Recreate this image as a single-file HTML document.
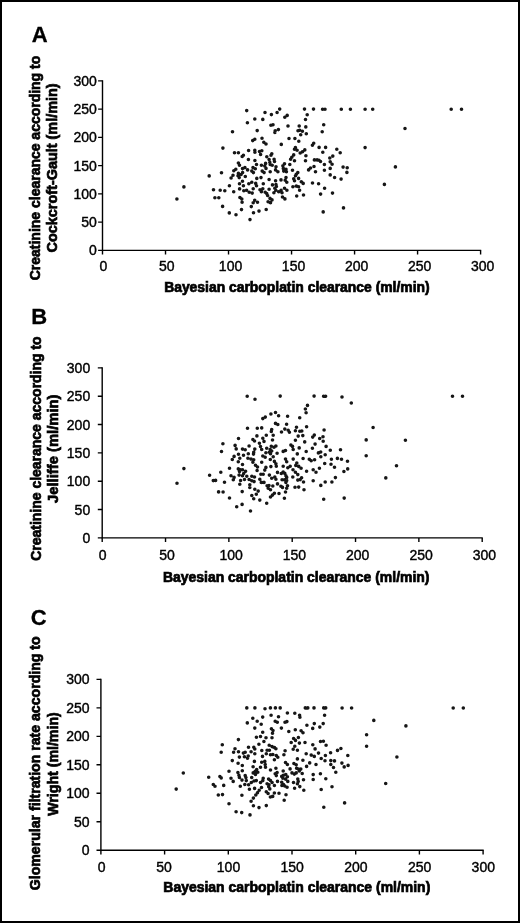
<!DOCTYPE html>
<html><head><meta charset="utf-8"><title>Figure</title><style>
html,body{margin:0;padding:0;background:#fff;}
svg{display:block;}
text{font-family:"Liberation Sans",Arial,Helvetica,sans-serif;fill:#000;}
.tk{font-size:14px;stroke:#000;stroke-width:0.4px;}
.tt{font-size:14px;font-weight:bold;stroke:#000;stroke-width:0.7px;}
.ty{font-size:14.4px;font-weight:bold;stroke:#000;stroke-width:0.7px;}
.lt{font-size:22px;font-weight:bold;stroke:#000;stroke-width:0.3px;}
</style></head><body>
<svg width="520" height="923" viewBox="0 0 520 923">
<defs><filter id="b" x="-5%" y="-5%" width="110%" height="110%"><feGaussianBlur stdDeviation="0.3"/></filter></defs>
<rect x="1" y="1" width="518" height="921" fill="#fff" stroke="#000" stroke-width="2"/>

<text class="lt" x="31.8" y="41.6">A</text>
<path d="M102.5 80.30000000000001V250.4M101.9 250.4H481.20000000000005" stroke="#000" stroke-width="1.4" fill="none"/>
<path d="M98.1 250.40H102.5M102.50 250.4V254.6M98.1 222.15H102.5M165.52 250.4V254.6M98.1 193.90H102.5M228.53 250.4V254.6M98.1 165.65H102.5M291.55 250.4V254.6M98.1 137.40H102.5M354.57 250.4V254.6M98.1 109.15H102.5M417.58 250.4V254.6M98.1 80.90H102.5M480.60 250.4V254.6" stroke="#000" stroke-width="1.4" fill="none"/>
<text class="tk" x="96.89999999999999" y="255.40" text-anchor="end">0</text>
<text class="tk" x="96.89999999999999" y="227.15" text-anchor="end">50</text>
<text class="tk" x="96.89999999999999" y="198.90" text-anchor="end">100</text>
<text class="tk" x="96.89999999999999" y="170.65" text-anchor="end">150</text>
<text class="tk" x="96.89999999999999" y="142.40" text-anchor="end">200</text>
<text class="tk" x="96.89999999999999" y="114.15" text-anchor="end">250</text>
<text class="tk" x="96.89999999999999" y="85.90" text-anchor="end">300</text>
<text class="tk" x="103.30" y="271.40" text-anchor="middle">0</text>
<text class="tk" x="166.72" y="271.40" text-anchor="middle">50</text>
<text class="tk" x="230.53" y="271.40" text-anchor="middle">100</text>
<text class="tk" x="293.55" y="271.40" text-anchor="middle">150</text>
<text class="tk" x="356.57" y="271.40" text-anchor="middle">200</text>
<text class="tk" x="419.58" y="271.40" text-anchor="middle">250</text>
<text class="tk" x="482.60" y="271.40" text-anchor="middle">300</text>
<text class="tt" x="296.9" y="291.9" text-anchor="middle" textLength="265.5" lengthAdjust="spacingAndGlyphs">Bayesian carboplatin clearance (ml/min)</text>
<text class="ty" transform="translate(39.6,168.0) rotate(-90)" text-anchor="middle" textLength="224.5" lengthAdjust="spacingAndGlyphs">Creatinine clearance according to</text>
<text class="ty" transform="translate(56.9,167.9) rotate(-90)" text-anchor="middle" textLength="169.0" lengthAdjust="spacingAndGlyphs">Cockcroft-Gault (ml/min)</text>
<path d="M230.70 131.8a1.8 1.8 0 1 0 3.60 0a1.8 1.8 0 1 0 -3.60 0zM221.10 148.1a1.8 1.8 0 1 0 3.60 0a1.8 1.8 0 1 0 -3.60 0zM244.90 110.6a1.8 1.8 0 1 0 3.60 0a1.8 1.8 0 1 0 -3.60 0zM263.20 112.5a1.8 1.8 0 1 0 3.60 0a1.8 1.8 0 1 0 -3.60 0zM253.00 119.0a1.8 1.8 0 1 0 3.60 0a1.8 1.8 0 1 0 -3.60 0zM261.00 119.4a1.8 1.8 0 1 0 3.60 0a1.8 1.8 0 1 0 -3.60 0zM245.60 122.8a1.8 1.8 0 1 0 3.60 0a1.8 1.8 0 1 0 -3.60 0zM255.40 130.6a1.8 1.8 0 1 0 3.60 0a1.8 1.8 0 1 0 -3.60 0zM250.90 140.6a1.8 1.8 0 1 0 3.60 0a1.8 1.8 0 1 0 -3.60 0zM253.00 139.2a1.8 1.8 0 1 0 3.60 0a1.8 1.8 0 1 0 -3.60 0zM260.20 138.3a1.8 1.8 0 1 0 3.60 0a1.8 1.8 0 1 0 -3.60 0zM262.00 142.3a1.8 1.8 0 1 0 3.60 0a1.8 1.8 0 1 0 -3.60 0zM264.20 144.0a1.8 1.8 0 1 0 3.60 0a1.8 1.8 0 1 0 -3.60 0zM277.90 109.1a1.8 1.8 0 1 0 3.60 0a1.8 1.8 0 1 0 -3.60 0zM275.30 112.5a1.8 1.8 0 1 0 3.60 0a1.8 1.8 0 1 0 -3.60 0zM269.60 114.6a1.8 1.8 0 1 0 3.60 0a1.8 1.8 0 1 0 -3.60 0zM283.00 117.3a1.8 1.8 0 1 0 3.60 0a1.8 1.8 0 1 0 -3.60 0zM285.40 115.4a1.8 1.8 0 1 0 3.60 0a1.8 1.8 0 1 0 -3.60 0zM302.70 109.1a1.8 1.8 0 1 0 3.60 0a1.8 1.8 0 1 0 -3.60 0zM311.70 109.1a1.8 1.8 0 1 0 3.60 0a1.8 1.8 0 1 0 -3.60 0zM305.40 114.7a1.8 1.8 0 1 0 3.60 0a1.8 1.8 0 1 0 -3.60 0zM303.70 119.5a1.8 1.8 0 1 0 3.60 0a1.8 1.8 0 1 0 -3.60 0zM269.10 125.2a1.8 1.8 0 1 0 3.60 0a1.8 1.8 0 1 0 -3.60 0zM271.20 124.8a1.8 1.8 0 1 0 3.60 0a1.8 1.8 0 1 0 -3.60 0zM286.20 126.0a1.8 1.8 0 1 0 3.60 0a1.8 1.8 0 1 0 -3.60 0zM297.40 126.0a1.8 1.8 0 1 0 3.60 0a1.8 1.8 0 1 0 -3.60 0zM304.00 126.9a1.8 1.8 0 1 0 3.60 0a1.8 1.8 0 1 0 -3.60 0zM273.40 130.8a1.8 1.8 0 1 0 3.60 0a1.8 1.8 0 1 0 -3.60 0zM276.60 129.6a1.8 1.8 0 1 0 3.60 0a1.8 1.8 0 1 0 -3.60 0zM273.10 132.5a1.8 1.8 0 1 0 3.60 0a1.8 1.8 0 1 0 -3.60 0zM296.20 130.8a1.8 1.8 0 1 0 3.60 0a1.8 1.8 0 1 0 -3.60 0zM297.90 130.3a1.8 1.8 0 1 0 3.60 0a1.8 1.8 0 1 0 -3.60 0zM300.60 131.2a1.8 1.8 0 1 0 3.60 0a1.8 1.8 0 1 0 -3.60 0zM298.90 134.8a1.8 1.8 0 1 0 3.60 0a1.8 1.8 0 1 0 -3.60 0zM304.50 133.7a1.8 1.8 0 1 0 3.60 0a1.8 1.8 0 1 0 -3.60 0zM287.20 138.5a1.8 1.8 0 1 0 3.60 0a1.8 1.8 0 1 0 -3.60 0zM293.10 138.5a1.8 1.8 0 1 0 3.60 0a1.8 1.8 0 1 0 -3.60 0zM297.00 141.3a1.8 1.8 0 1 0 3.60 0a1.8 1.8 0 1 0 -3.60 0zM279.50 144.4a1.8 1.8 0 1 0 3.60 0a1.8 1.8 0 1 0 -3.60 0zM310.60 145.2a1.8 1.8 0 1 0 3.60 0a1.8 1.8 0 1 0 -3.60 0zM311.90 143.3a1.8 1.8 0 1 0 3.60 0a1.8 1.8 0 1 0 -3.60 0zM293.60 147.6a1.8 1.8 0 1 0 3.60 0a1.8 1.8 0 1 0 -3.60 0zM320.80 109.3a1.8 1.8 0 1 0 3.60 0a1.8 1.8 0 1 0 -3.60 0zM323.20 109.3a1.8 1.8 0 1 0 3.60 0a1.8 1.8 0 1 0 -3.60 0zM339.50 109.3a1.8 1.8 0 1 0 3.60 0a1.8 1.8 0 1 0 -3.60 0zM348.60 109.3a1.8 1.8 0 1 0 3.60 0a1.8 1.8 0 1 0 -3.60 0zM321.90 124.7a1.8 1.8 0 1 0 3.60 0a1.8 1.8 0 1 0 -3.60 0zM320.40 131.7a1.8 1.8 0 1 0 3.60 0a1.8 1.8 0 1 0 -3.60 0zM317.30 147.4a1.8 1.8 0 1 0 3.60 0a1.8 1.8 0 1 0 -3.60 0zM323.80 147.4a1.8 1.8 0 1 0 3.60 0a1.8 1.8 0 1 0 -3.60 0zM363.30 109.3a1.8 1.8 0 1 0 3.60 0a1.8 1.8 0 1 0 -3.60 0zM370.90 109.3a1.8 1.8 0 1 0 3.60 0a1.8 1.8 0 1 0 -3.60 0zM449.40 109.3a1.8 1.8 0 1 0 3.60 0a1.8 1.8 0 1 0 -3.60 0zM459.70 109.3a1.8 1.8 0 1 0 3.60 0a1.8 1.8 0 1 0 -3.60 0zM403.20 128.5a1.8 1.8 0 1 0 3.60 0a1.8 1.8 0 1 0 -3.60 0zM363.30 147.6a1.8 1.8 0 1 0 3.60 0a1.8 1.8 0 1 0 -3.60 0zM207.40 175.9a1.8 1.8 0 1 0 3.60 0a1.8 1.8 0 1 0 -3.60 0zM182.10 186.9a1.8 1.8 0 1 0 3.60 0a1.8 1.8 0 1 0 -3.60 0zM211.70 189.8a1.8 1.8 0 1 0 3.60 0a1.8 1.8 0 1 0 -3.60 0zM232.70 152.8a1.8 1.8 0 1 0 3.60 0a1.8 1.8 0 1 0 -3.60 0zM236.60 152.8a1.8 1.8 0 1 0 3.60 0a1.8 1.8 0 1 0 -3.60 0zM246.80 150.5a1.8 1.8 0 1 0 3.60 0a1.8 1.8 0 1 0 -3.60 0zM253.00 150.3a1.8 1.8 0 1 0 3.60 0a1.8 1.8 0 1 0 -3.60 0zM253.10 152.2a1.8 1.8 0 1 0 3.60 0a1.8 1.8 0 1 0 -3.60 0zM240.40 156.5a1.8 1.8 0 1 0 3.60 0a1.8 1.8 0 1 0 -3.60 0zM241.60 155.3a1.8 1.8 0 1 0 3.60 0a1.8 1.8 0 1 0 -3.60 0zM246.60 159.5a1.8 1.8 0 1 0 3.60 0a1.8 1.8 0 1 0 -3.60 0zM253.10 160.5a1.8 1.8 0 1 0 3.60 0a1.8 1.8 0 1 0 -3.60 0zM236.60 163.0a1.8 1.8 0 1 0 3.60 0a1.8 1.8 0 1 0 -3.60 0zM237.70 165.3a1.8 1.8 0 1 0 3.60 0a1.8 1.8 0 1 0 -3.60 0zM254.70 164.5a1.8 1.8 0 1 0 3.60 0a1.8 1.8 0 1 0 -3.60 0zM219.70 172.8a1.8 1.8 0 1 0 3.60 0a1.8 1.8 0 1 0 -3.60 0zM232.00 170.7a1.8 1.8 0 1 0 3.60 0a1.8 1.8 0 1 0 -3.60 0zM234.00 169.2a1.8 1.8 0 1 0 3.60 0a1.8 1.8 0 1 0 -3.60 0zM240.70 168.6a1.8 1.8 0 1 0 3.60 0a1.8 1.8 0 1 0 -3.60 0zM243.10 167.6a1.8 1.8 0 1 0 3.60 0a1.8 1.8 0 1 0 -3.60 0zM245.80 169.9a1.8 1.8 0 1 0 3.60 0a1.8 1.8 0 1 0 -3.60 0zM251.20 167.6a1.8 1.8 0 1 0 3.60 0a1.8 1.8 0 1 0 -3.60 0zM253.50 168.8a1.8 1.8 0 1 0 3.60 0a1.8 1.8 0 1 0 -3.60 0zM250.00 171.1a1.8 1.8 0 1 0 3.60 0a1.8 1.8 0 1 0 -3.60 0zM251.60 172.6a1.8 1.8 0 1 0 3.60 0a1.8 1.8 0 1 0 -3.60 0zM240.80 172.6a1.8 1.8 0 1 0 3.60 0a1.8 1.8 0 1 0 -3.60 0zM236.60 173.4a1.8 1.8 0 1 0 3.60 0a1.8 1.8 0 1 0 -3.60 0zM239.30 174.5a1.8 1.8 0 1 0 3.60 0a1.8 1.8 0 1 0 -3.60 0zM236.20 175.7a1.8 1.8 0 1 0 3.60 0a1.8 1.8 0 1 0 -3.60 0zM237.40 177.6a1.8 1.8 0 1 0 3.60 0a1.8 1.8 0 1 0 -3.60 0zM243.50 176.5a1.8 1.8 0 1 0 3.60 0a1.8 1.8 0 1 0 -3.60 0zM231.20 175.3a1.8 1.8 0 1 0 3.60 0a1.8 1.8 0 1 0 -3.60 0zM229.30 178.0a1.8 1.8 0 1 0 3.60 0a1.8 1.8 0 1 0 -3.60 0zM255.00 178.4a1.8 1.8 0 1 0 3.60 0a1.8 1.8 0 1 0 -3.60 0zM240.70 181.2a1.8 1.8 0 1 0 3.60 0a1.8 1.8 0 1 0 -3.60 0zM237.70 183.8a1.8 1.8 0 1 0 3.60 0a1.8 1.8 0 1 0 -3.60 0zM227.60 185.8a1.8 1.8 0 1 0 3.60 0a1.8 1.8 0 1 0 -3.60 0zM241.60 185.8a1.8 1.8 0 1 0 3.60 0a1.8 1.8 0 1 0 -3.60 0zM247.00 183.8a1.8 1.8 0 1 0 3.60 0a1.8 1.8 0 1 0 -3.60 0zM250.00 182.2a1.8 1.8 0 1 0 3.60 0a1.8 1.8 0 1 0 -3.60 0zM253.90 183.4a1.8 1.8 0 1 0 3.60 0a1.8 1.8 0 1 0 -3.60 0zM254.70 185.7a1.8 1.8 0 1 0 3.60 0a1.8 1.8 0 1 0 -3.60 0zM257.70 151.5a1.8 1.8 0 1 0 3.60 0a1.8 1.8 0 1 0 -3.60 0zM260.00 150.7a1.8 1.8 0 1 0 3.60 0a1.8 1.8 0 1 0 -3.60 0zM258.80 154.5a1.8 1.8 0 1 0 3.60 0a1.8 1.8 0 1 0 -3.60 0zM270.00 153.8a1.8 1.8 0 1 0 3.60 0a1.8 1.8 0 1 0 -3.60 0zM269.20 155.3a1.8 1.8 0 1 0 3.60 0a1.8 1.8 0 1 0 -3.60 0zM265.00 156.8a1.8 1.8 0 1 0 3.60 0a1.8 1.8 0 1 0 -3.60 0zM267.30 159.5a1.8 1.8 0 1 0 3.60 0a1.8 1.8 0 1 0 -3.60 0zM272.30 159.2a1.8 1.8 0 1 0 3.60 0a1.8 1.8 0 1 0 -3.60 0zM272.70 161.5a1.8 1.8 0 1 0 3.60 0a1.8 1.8 0 1 0 -3.60 0zM268.00 162.2a1.8 1.8 0 1 0 3.60 0a1.8 1.8 0 1 0 -3.60 0zM268.40 164.5a1.8 1.8 0 1 0 3.60 0a1.8 1.8 0 1 0 -3.60 0zM270.40 165.3a1.8 1.8 0 1 0 3.60 0a1.8 1.8 0 1 0 -3.60 0zM263.80 163.4a1.8 1.8 0 1 0 3.60 0a1.8 1.8 0 1 0 -3.60 0zM263.00 166.1a1.8 1.8 0 1 0 3.60 0a1.8 1.8 0 1 0 -3.60 0zM259.60 165.3a1.8 1.8 0 1 0 3.60 0a1.8 1.8 0 1 0 -3.60 0zM264.20 168.4a1.8 1.8 0 1 0 3.60 0a1.8 1.8 0 1 0 -3.60 0zM260.40 171.1a1.8 1.8 0 1 0 3.60 0a1.8 1.8 0 1 0 -3.60 0zM262.30 172.6a1.8 1.8 0 1 0 3.60 0a1.8 1.8 0 1 0 -3.60 0zM268.40 171.8a1.8 1.8 0 1 0 3.60 0a1.8 1.8 0 1 0 -3.60 0zM274.20 166.8a1.8 1.8 0 1 0 3.60 0a1.8 1.8 0 1 0 -3.60 0zM273.80 169.9a1.8 1.8 0 1 0 3.60 0a1.8 1.8 0 1 0 -3.60 0zM276.10 171.8a1.8 1.8 0 1 0 3.60 0a1.8 1.8 0 1 0 -3.60 0zM282.70 163.8a1.8 1.8 0 1 0 3.60 0a1.8 1.8 0 1 0 -3.60 0zM281.10 165.7a1.8 1.8 0 1 0 3.60 0a1.8 1.8 0 1 0 -3.60 0zM281.50 168.4a1.8 1.8 0 1 0 3.60 0a1.8 1.8 0 1 0 -3.60 0zM284.20 169.2a1.8 1.8 0 1 0 3.60 0a1.8 1.8 0 1 0 -3.60 0zM281.90 171.1a1.8 1.8 0 1 0 3.60 0a1.8 1.8 0 1 0 -3.60 0zM284.60 171.8a1.8 1.8 0 1 0 3.60 0a1.8 1.8 0 1 0 -3.60 0zM288.00 164.5a1.8 1.8 0 1 0 3.60 0a1.8 1.8 0 1 0 -3.60 0zM290.70 170.3a1.8 1.8 0 1 0 3.60 0a1.8 1.8 0 1 0 -3.60 0zM291.90 154.9a1.8 1.8 0 1 0 3.60 0a1.8 1.8 0 1 0 -3.60 0zM290.00 157.2a1.8 1.8 0 1 0 3.60 0a1.8 1.8 0 1 0 -3.60 0zM288.80 159.2a1.8 1.8 0 1 0 3.60 0a1.8 1.8 0 1 0 -3.60 0zM292.70 160.7a1.8 1.8 0 1 0 3.60 0a1.8 1.8 0 1 0 -3.60 0zM292.70 149.2a1.8 1.8 0 1 0 3.60 0a1.8 1.8 0 1 0 -3.60 0zM259.20 177.6a1.8 1.8 0 1 0 3.60 0a1.8 1.8 0 1 0 -3.60 0zM267.30 179.5a1.8 1.8 0 1 0 3.60 0a1.8 1.8 0 1 0 -3.60 0zM273.80 180.7a1.8 1.8 0 1 0 3.60 0a1.8 1.8 0 1 0 -3.60 0zM279.20 179.9a1.8 1.8 0 1 0 3.60 0a1.8 1.8 0 1 0 -3.60 0zM284.20 177.6a1.8 1.8 0 1 0 3.60 0a1.8 1.8 0 1 0 -3.60 0zM283.40 180.3a1.8 1.8 0 1 0 3.60 0a1.8 1.8 0 1 0 -3.60 0zM285.00 182.2a1.8 1.8 0 1 0 3.60 0a1.8 1.8 0 1 0 -3.60 0zM291.90 178.8a1.8 1.8 0 1 0 3.60 0a1.8 1.8 0 1 0 -3.60 0zM292.70 180.7a1.8 1.8 0 1 0 3.60 0a1.8 1.8 0 1 0 -3.60 0zM261.50 183.8a1.8 1.8 0 1 0 3.60 0a1.8 1.8 0 1 0 -3.60 0zM270.70 184.9a1.8 1.8 0 1 0 3.60 0a1.8 1.8 0 1 0 -3.60 0zM274.20 184.5a1.8 1.8 0 1 0 3.60 0a1.8 1.8 0 1 0 -3.60 0zM274.60 186.5a1.8 1.8 0 1 0 3.60 0a1.8 1.8 0 1 0 -3.60 0zM291.10 186.8a1.8 1.8 0 1 0 3.60 0a1.8 1.8 0 1 0 -3.60 0zM295.30 150.3a1.8 1.8 0 1 0 3.60 0a1.8 1.8 0 1 0 -3.60 0zM298.40 153.0a1.8 1.8 0 1 0 3.60 0a1.8 1.8 0 1 0 -3.60 0zM300.70 151.8a1.8 1.8 0 1 0 3.60 0a1.8 1.8 0 1 0 -3.60 0zM303.00 149.9a1.8 1.8 0 1 0 3.60 0a1.8 1.8 0 1 0 -3.60 0zM304.10 155.7a1.8 1.8 0 1 0 3.60 0a1.8 1.8 0 1 0 -3.60 0zM303.70 160.7a1.8 1.8 0 1 0 3.60 0a1.8 1.8 0 1 0 -3.60 0zM321.00 152.2a1.8 1.8 0 1 0 3.60 0a1.8 1.8 0 1 0 -3.60 0zM312.60 159.9a1.8 1.8 0 1 0 3.60 0a1.8 1.8 0 1 0 -3.60 0zM315.30 159.9a1.8 1.8 0 1 0 3.60 0a1.8 1.8 0 1 0 -3.60 0zM317.20 160.3a1.8 1.8 0 1 0 3.60 0a1.8 1.8 0 1 0 -3.60 0zM318.70 161.5a1.8 1.8 0 1 0 3.60 0a1.8 1.8 0 1 0 -3.60 0zM322.60 164.5a1.8 1.8 0 1 0 3.60 0a1.8 1.8 0 1 0 -3.60 0zM328.00 158.0a1.8 1.8 0 1 0 3.60 0a1.8 1.8 0 1 0 -3.60 0zM331.00 156.1a1.8 1.8 0 1 0 3.60 0a1.8 1.8 0 1 0 -3.60 0zM328.40 161.8a1.8 1.8 0 1 0 3.60 0a1.8 1.8 0 1 0 -3.60 0zM330.30 164.2a1.8 1.8 0 1 0 3.60 0a1.8 1.8 0 1 0 -3.60 0zM328.40 168.4a1.8 1.8 0 1 0 3.60 0a1.8 1.8 0 1 0 -3.60 0zM322.60 170.3a1.8 1.8 0 1 0 3.60 0a1.8 1.8 0 1 0 -3.60 0zM306.80 169.9a1.8 1.8 0 1 0 3.60 0a1.8 1.8 0 1 0 -3.60 0zM308.70 168.0a1.8 1.8 0 1 0 3.60 0a1.8 1.8 0 1 0 -3.60 0zM312.20 166.5a1.8 1.8 0 1 0 3.60 0a1.8 1.8 0 1 0 -3.60 0zM313.70 171.8a1.8 1.8 0 1 0 3.60 0a1.8 1.8 0 1 0 -3.60 0zM296.00 172.6a1.8 1.8 0 1 0 3.60 0a1.8 1.8 0 1 0 -3.60 0zM294.50 174.2a1.8 1.8 0 1 0 3.60 0a1.8 1.8 0 1 0 -3.60 0zM293.70 175.7a1.8 1.8 0 1 0 3.60 0a1.8 1.8 0 1 0 -3.60 0zM296.80 178.4a1.8 1.8 0 1 0 3.60 0a1.8 1.8 0 1 0 -3.60 0zM299.50 181.8a1.8 1.8 0 1 0 3.60 0a1.8 1.8 0 1 0 -3.60 0zM301.40 183.4a1.8 1.8 0 1 0 3.60 0a1.8 1.8 0 1 0 -3.60 0zM310.70 183.0a1.8 1.8 0 1 0 3.60 0a1.8 1.8 0 1 0 -3.60 0zM316.80 183.8a1.8 1.8 0 1 0 3.60 0a1.8 1.8 0 1 0 -3.60 0zM328.40 174.9a1.8 1.8 0 1 0 3.60 0a1.8 1.8 0 1 0 -3.60 0zM294.50 186.1a1.8 1.8 0 1 0 3.60 0a1.8 1.8 0 1 0 -3.60 0zM296.80 186.8a1.8 1.8 0 1 0 3.60 0a1.8 1.8 0 1 0 -3.60 0zM335.00 149.3a1.8 1.8 0 1 0 3.60 0a1.8 1.8 0 1 0 -3.60 0zM338.40 152.7a1.8 1.8 0 1 0 3.60 0a1.8 1.8 0 1 0 -3.60 0zM341.30 167.1a1.8 1.8 0 1 0 3.60 0a1.8 1.8 0 1 0 -3.60 0zM345.40 167.8a1.8 1.8 0 1 0 3.60 0a1.8 1.8 0 1 0 -3.60 0zM345.10 172.4a1.8 1.8 0 1 0 3.60 0a1.8 1.8 0 1 0 -3.60 0zM332.80 177.5a1.8 1.8 0 1 0 3.60 0a1.8 1.8 0 1 0 -3.60 0zM339.30 179.1a1.8 1.8 0 1 0 3.60 0a1.8 1.8 0 1 0 -3.60 0zM330.70 193.1a1.8 1.8 0 1 0 3.60 0a1.8 1.8 0 1 0 -3.60 0zM393.60 166.9a1.8 1.8 0 1 0 3.60 0a1.8 1.8 0 1 0 -3.60 0zM382.60 184.4a1.8 1.8 0 1 0 3.60 0a1.8 1.8 0 1 0 -3.60 0zM218.40 190.3a1.8 1.8 0 1 0 3.60 0a1.8 1.8 0 1 0 -3.60 0zM223.00 190.8a1.8 1.8 0 1 0 3.60 0a1.8 1.8 0 1 0 -3.60 0zM231.90 191.8a1.8 1.8 0 1 0 3.60 0a1.8 1.8 0 1 0 -3.60 0zM237.80 188.9a1.8 1.8 0 1 0 3.60 0a1.8 1.8 0 1 0 -3.60 0zM242.00 190.8a1.8 1.8 0 1 0 3.60 0a1.8 1.8 0 1 0 -3.60 0zM244.80 190.3a1.8 1.8 0 1 0 3.60 0a1.8 1.8 0 1 0 -3.60 0zM247.40 192.2a1.8 1.8 0 1 0 3.60 0a1.8 1.8 0 1 0 -3.60 0zM213.10 197.7a1.8 1.8 0 1 0 3.60 0a1.8 1.8 0 1 0 -3.60 0zM217.00 197.7a1.8 1.8 0 1 0 3.60 0a1.8 1.8 0 1 0 -3.60 0zM238.10 197.5a1.8 1.8 0 1 0 3.60 0a1.8 1.8 0 1 0 -3.60 0zM240.00 199.0a1.8 1.8 0 1 0 3.60 0a1.8 1.8 0 1 0 -3.60 0zM240.30 202.2a1.8 1.8 0 1 0 3.60 0a1.8 1.8 0 1 0 -3.60 0zM220.80 206.4a1.8 1.8 0 1 0 3.60 0a1.8 1.8 0 1 0 -3.60 0zM239.70 209.6a1.8 1.8 0 1 0 3.60 0a1.8 1.8 0 1 0 -3.60 0zM227.50 212.9a1.8 1.8 0 1 0 3.60 0a1.8 1.8 0 1 0 -3.60 0zM234.20 214.8a1.8 1.8 0 1 0 3.60 0a1.8 1.8 0 1 0 -3.60 0zM175.10 199.0a1.8 1.8 0 1 0 3.60 0a1.8 1.8 0 1 0 -3.60 0zM251.40 188.8a1.8 1.8 0 1 0 3.60 0a1.8 1.8 0 1 0 -3.60 0zM250.40 193.1a1.8 1.8 0 1 0 3.60 0a1.8 1.8 0 1 0 -3.60 0zM258.20 189.8a1.8 1.8 0 1 0 3.60 0a1.8 1.8 0 1 0 -3.60 0zM259.60 191.7a1.8 1.8 0 1 0 3.60 0a1.8 1.8 0 1 0 -3.60 0zM261.00 188.8a1.8 1.8 0 1 0 3.60 0a1.8 1.8 0 1 0 -3.60 0zM263.40 192.2a1.8 1.8 0 1 0 3.60 0a1.8 1.8 0 1 0 -3.60 0zM264.90 193.6a1.8 1.8 0 1 0 3.60 0a1.8 1.8 0 1 0 -3.60 0zM265.80 195.5a1.8 1.8 0 1 0 3.60 0a1.8 1.8 0 1 0 -3.60 0zM267.30 189.3a1.8 1.8 0 1 0 3.60 0a1.8 1.8 0 1 0 -3.60 0zM273.00 188.3a1.8 1.8 0 1 0 3.60 0a1.8 1.8 0 1 0 -3.60 0zM272.10 192.7a1.8 1.8 0 1 0 3.60 0a1.8 1.8 0 1 0 -3.60 0zM274.00 190.2a1.8 1.8 0 1 0 3.60 0a1.8 1.8 0 1 0 -3.60 0zM276.90 191.7a1.8 1.8 0 1 0 3.60 0a1.8 1.8 0 1 0 -3.60 0zM279.30 190.2a1.8 1.8 0 1 0 3.60 0a1.8 1.8 0 1 0 -3.60 0zM280.20 192.7a1.8 1.8 0 1 0 3.60 0a1.8 1.8 0 1 0 -3.60 0zM282.70 188.3a1.8 1.8 0 1 0 3.60 0a1.8 1.8 0 1 0 -3.60 0zM285.10 190.2a1.8 1.8 0 1 0 3.60 0a1.8 1.8 0 1 0 -3.60 0zM280.70 197.0a1.8 1.8 0 1 0 3.60 0a1.8 1.8 0 1 0 -3.60 0zM283.10 198.9a1.8 1.8 0 1 0 3.60 0a1.8 1.8 0 1 0 -3.60 0zM252.90 200.3a1.8 1.8 0 1 0 3.60 0a1.8 1.8 0 1 0 -3.60 0zM251.40 202.8a1.8 1.8 0 1 0 3.60 0a1.8 1.8 0 1 0 -3.60 0zM255.70 202.3a1.8 1.8 0 1 0 3.60 0a1.8 1.8 0 1 0 -3.60 0zM249.50 206.6a1.8 1.8 0 1 0 3.60 0a1.8 1.8 0 1 0 -3.60 0zM268.20 198.4a1.8 1.8 0 1 0 3.60 0a1.8 1.8 0 1 0 -3.60 0zM270.20 199.9a1.8 1.8 0 1 0 3.60 0a1.8 1.8 0 1 0 -3.60 0zM266.30 201.8a1.8 1.8 0 1 0 3.60 0a1.8 1.8 0 1 0 -3.60 0zM268.70 202.8a1.8 1.8 0 1 0 3.60 0a1.8 1.8 0 1 0 -3.60 0zM264.40 209.5a1.8 1.8 0 1 0 3.60 0a1.8 1.8 0 1 0 -3.60 0zM251.70 212.7a1.8 1.8 0 1 0 3.60 0a1.8 1.8 0 1 0 -3.60 0zM257.20 211.1a1.8 1.8 0 1 0 3.60 0a1.8 1.8 0 1 0 -3.60 0zM248.20 219.6a1.8 1.8 0 1 0 3.60 0a1.8 1.8 0 1 0 -3.60 0zM297.80 190.2a1.8 1.8 0 1 0 3.60 0a1.8 1.8 0 1 0 -3.60 0zM322.80 188.3a1.8 1.8 0 1 0 3.60 0a1.8 1.8 0 1 0 -3.60 0zM294.90 196.0a1.8 1.8 0 1 0 3.60 0a1.8 1.8 0 1 0 -3.60 0zM301.70 195.0a1.8 1.8 0 1 0 3.60 0a1.8 1.8 0 1 0 -3.60 0zM318.80 194.1a1.8 1.8 0 1 0 3.60 0a1.8 1.8 0 1 0 -3.60 0zM321.40 211.9a1.8 1.8 0 1 0 3.60 0a1.8 1.8 0 1 0 -3.60 0zM341.70 207.9a1.8 1.8 0 1 0 3.60 0a1.8 1.8 0 1 0 -3.60 0z" fill="#181818" filter="url(#b)"/>
<text class="lt" x="31.2" y="323.7">B</text>
<path d="M102.2 367.29999999999995V537.9M101.60000000000001 537.9H482.8" stroke="#000" stroke-width="1.4" fill="none"/>
<path d="M97.8 537.90H102.2M102.20 537.9V542.1M97.8 509.57H102.2M165.53 537.9V542.1M97.8 481.23H102.2M228.87 537.9V542.1M97.8 452.90H102.2M292.20 537.9V542.1M97.8 424.57H102.2M355.53 537.9V542.1M97.8 396.23H102.2M418.87 537.9V542.1M97.8 367.90H102.2M482.20 537.9V542.1" stroke="#000" stroke-width="1.4" fill="none"/>
<text class="tk" x="90.19999999999999" y="542.90" text-anchor="end">0</text>
<text class="tk" x="90.19999999999999" y="514.57" text-anchor="end">50</text>
<text class="tk" x="90.19999999999999" y="486.23" text-anchor="end">100</text>
<text class="tk" x="90.19999999999999" y="457.90" text-anchor="end">150</text>
<text class="tk" x="90.19999999999999" y="429.57" text-anchor="end">200</text>
<text class="tk" x="90.19999999999999" y="401.23" text-anchor="end">250</text>
<text class="tk" x="90.19999999999999" y="372.90" text-anchor="end">300</text>
<text class="tk" x="102.70" y="559.50" text-anchor="middle">0</text>
<text class="tk" x="167.13" y="559.50" text-anchor="middle">50</text>
<text class="tk" x="231.07" y="559.50" text-anchor="middle">100</text>
<text class="tk" x="294.40" y="559.50" text-anchor="middle">150</text>
<text class="tk" x="357.73" y="559.50" text-anchor="middle">200</text>
<text class="tk" x="421.07" y="559.50" text-anchor="middle">250</text>
<text class="tk" x="484.40" y="559.50" text-anchor="middle">300</text>
<text class="tt" x="296.2" y="581.6" text-anchor="middle" textLength="266.5" lengthAdjust="spacingAndGlyphs">Bayesian carboplatin clearance (ml/min)</text>
<text class="ty" transform="translate(41.0,448.6) rotate(-90)" text-anchor="middle" textLength="224.5" lengthAdjust="spacingAndGlyphs">Creatinine clearance according to</text>
<text class="ty" transform="translate(57.5,448.7) rotate(-90)" text-anchor="middle" textLength="108.5" lengthAdjust="spacingAndGlyphs">Jelliffe (ml/min)</text>
<path d="M245.40 396.2a1.8 1.8 0 1 0 3.60 0a1.8 1.8 0 1 0 -3.60 0zM253.20 399.3a1.8 1.8 0 1 0 3.60 0a1.8 1.8 0 1 0 -3.60 0zM245.70 428.2a1.8 1.8 0 1 0 3.60 0a1.8 1.8 0 1 0 -3.60 0zM255.50 428.2a1.8 1.8 0 1 0 3.60 0a1.8 1.8 0 1 0 -3.60 0zM255.10 435.9a1.8 1.8 0 1 0 3.60 0a1.8 1.8 0 1 0 -3.60 0zM278.40 396.1a1.8 1.8 0 1 0 3.60 0a1.8 1.8 0 1 0 -3.60 0zM269.10 414.0a1.8 1.8 0 1 0 3.60 0a1.8 1.8 0 1 0 -3.60 0zM273.70 412.5a1.8 1.8 0 1 0 3.60 0a1.8 1.8 0 1 0 -3.60 0zM276.80 415.7a1.8 1.8 0 1 0 3.60 0a1.8 1.8 0 1 0 -3.60 0zM285.80 416.3a1.8 1.8 0 1 0 3.60 0a1.8 1.8 0 1 0 -3.60 0zM261.00 418.6a1.8 1.8 0 1 0 3.60 0a1.8 1.8 0 1 0 -3.60 0zM263.50 417.1a1.8 1.8 0 1 0 3.60 0a1.8 1.8 0 1 0 -3.60 0zM273.70 423.4a1.8 1.8 0 1 0 3.60 0a1.8 1.8 0 1 0 -3.60 0zM276.00 424.5a1.8 1.8 0 1 0 3.60 0a1.8 1.8 0 1 0 -3.60 0zM284.80 424.3a1.8 1.8 0 1 0 3.60 0a1.8 1.8 0 1 0 -3.60 0zM312.30 396.1a1.8 1.8 0 1 0 3.60 0a1.8 1.8 0 1 0 -3.60 0zM321.80 396.3a1.8 1.8 0 1 0 3.60 0a1.8 1.8 0 1 0 -3.60 0zM323.80 396.3a1.8 1.8 0 1 0 3.60 0a1.8 1.8 0 1 0 -3.60 0zM340.20 397.0a1.8 1.8 0 1 0 3.60 0a1.8 1.8 0 1 0 -3.60 0zM305.70 405.4a1.8 1.8 0 1 0 3.60 0a1.8 1.8 0 1 0 -3.60 0zM303.60 409.0a1.8 1.8 0 1 0 3.60 0a1.8 1.8 0 1 0 -3.60 0zM304.30 412.7a1.8 1.8 0 1 0 3.60 0a1.8 1.8 0 1 0 -3.60 0zM297.90 417.7a1.8 1.8 0 1 0 3.60 0a1.8 1.8 0 1 0 -3.60 0zM304.80 426.8a1.8 1.8 0 1 0 3.60 0a1.8 1.8 0 1 0 -3.60 0zM322.30 430.0a1.8 1.8 0 1 0 3.60 0a1.8 1.8 0 1 0 -3.60 0zM298.00 431.2a1.8 1.8 0 1 0 3.60 0a1.8 1.8 0 1 0 -3.60 0zM300.00 431.0a1.8 1.8 0 1 0 3.60 0a1.8 1.8 0 1 0 -3.60 0zM294.70 427.3a1.8 1.8 0 1 0 3.60 0a1.8 1.8 0 1 0 -3.60 0zM349.50 403.0a1.8 1.8 0 1 0 3.60 0a1.8 1.8 0 1 0 -3.60 0zM450.70 396.3a1.8 1.8 0 1 0 3.60 0a1.8 1.8 0 1 0 -3.60 0zM460.70 396.3a1.8 1.8 0 1 0 3.60 0a1.8 1.8 0 1 0 -3.60 0zM371.30 427.5a1.8 1.8 0 1 0 3.60 0a1.8 1.8 0 1 0 -3.60 0zM403.60 440.2a1.8 1.8 0 1 0 3.60 0a1.8 1.8 0 1 0 -3.60 0zM394.70 465.8a1.8 1.8 0 1 0 3.60 0a1.8 1.8 0 1 0 -3.60 0zM384.00 477.9a1.8 1.8 0 1 0 3.60 0a1.8 1.8 0 1 0 -3.60 0zM364.40 439.9a1.8 1.8 0 1 0 3.60 0a1.8 1.8 0 1 0 -3.60 0zM364.40 455.8a1.8 1.8 0 1 0 3.60 0a1.8 1.8 0 1 0 -3.60 0zM338.70 449.7a1.8 1.8 0 1 0 3.60 0a1.8 1.8 0 1 0 -3.60 0zM335.60 458.4a1.8 1.8 0 1 0 3.60 0a1.8 1.8 0 1 0 -3.60 0zM339.70 459.3a1.8 1.8 0 1 0 3.60 0a1.8 1.8 0 1 0 -3.60 0zM345.70 461.2a1.8 1.8 0 1 0 3.60 0a1.8 1.8 0 1 0 -3.60 0zM332.70 467.3a1.8 1.8 0 1 0 3.60 0a1.8 1.8 0 1 0 -3.60 0zM345.90 468.9a1.8 1.8 0 1 0 3.60 0a1.8 1.8 0 1 0 -3.60 0zM342.10 471.5a1.8 1.8 0 1 0 3.60 0a1.8 1.8 0 1 0 -3.60 0zM333.60 477.6a1.8 1.8 0 1 0 3.60 0a1.8 1.8 0 1 0 -3.60 0zM236.70 438.5a1.8 1.8 0 1 0 3.60 0a1.8 1.8 0 1 0 -3.60 0zM221.10 443.7a1.8 1.8 0 1 0 3.60 0a1.8 1.8 0 1 0 -3.60 0zM233.30 445.4a1.8 1.8 0 1 0 3.60 0a1.8 1.8 0 1 0 -3.60 0zM234.40 448.9a1.8 1.8 0 1 0 3.60 0a1.8 1.8 0 1 0 -3.60 0zM219.70 451.5a1.8 1.8 0 1 0 3.60 0a1.8 1.8 0 1 0 -3.60 0zM247.30 446.0a1.8 1.8 0 1 0 3.60 0a1.8 1.8 0 1 0 -3.60 0zM251.10 439.5a1.8 1.8 0 1 0 3.60 0a1.8 1.8 0 1 0 -3.60 0zM252.70 441.0a1.8 1.8 0 1 0 3.60 0a1.8 1.8 0 1 0 -3.60 0zM240.70 449.1a1.8 1.8 0 1 0 3.60 0a1.8 1.8 0 1 0 -3.60 0zM243.40 449.8a1.8 1.8 0 1 0 3.60 0a1.8 1.8 0 1 0 -3.60 0zM253.00 449.1a1.8 1.8 0 1 0 3.60 0a1.8 1.8 0 1 0 -3.60 0zM251.90 452.2a1.8 1.8 0 1 0 3.60 0a1.8 1.8 0 1 0 -3.60 0zM236.70 454.3a1.8 1.8 0 1 0 3.60 0a1.8 1.8 0 1 0 -3.60 0zM241.70 455.2a1.8 1.8 0 1 0 3.60 0a1.8 1.8 0 1 0 -3.60 0zM246.50 453.7a1.8 1.8 0 1 0 3.60 0a1.8 1.8 0 1 0 -3.60 0zM251.70 454.1a1.8 1.8 0 1 0 3.60 0a1.8 1.8 0 1 0 -3.60 0zM232.30 456.4a1.8 1.8 0 1 0 3.60 0a1.8 1.8 0 1 0 -3.60 0zM230.50 459.5a1.8 1.8 0 1 0 3.60 0a1.8 1.8 0 1 0 -3.60 0zM238.00 458.3a1.8 1.8 0 1 0 3.60 0a1.8 1.8 0 1 0 -3.60 0zM246.10 458.3a1.8 1.8 0 1 0 3.60 0a1.8 1.8 0 1 0 -3.60 0zM249.20 459.1a1.8 1.8 0 1 0 3.60 0a1.8 1.8 0 1 0 -3.60 0zM251.90 459.8a1.8 1.8 0 1 0 3.60 0a1.8 1.8 0 1 0 -3.60 0zM236.50 461.8a1.8 1.8 0 1 0 3.60 0a1.8 1.8 0 1 0 -3.60 0zM240.70 464.5a1.8 1.8 0 1 0 3.60 0a1.8 1.8 0 1 0 -3.60 0zM251.10 462.2a1.8 1.8 0 1 0 3.60 0a1.8 1.8 0 1 0 -3.60 0zM259.90 427.9a1.8 1.8 0 1 0 3.60 0a1.8 1.8 0 1 0 -3.60 0zM269.90 429.5a1.8 1.8 0 1 0 3.60 0a1.8 1.8 0 1 0 -3.60 0zM269.50 431.5a1.8 1.8 0 1 0 3.60 0a1.8 1.8 0 1 0 -3.60 0zM279.70 432.0a1.8 1.8 0 1 0 3.60 0a1.8 1.8 0 1 0 -3.60 0zM283.00 429.1a1.8 1.8 0 1 0 3.60 0a1.8 1.8 0 1 0 -3.60 0zM286.40 430.2a1.8 1.8 0 1 0 3.60 0a1.8 1.8 0 1 0 -3.60 0zM287.60 432.2a1.8 1.8 0 1 0 3.60 0a1.8 1.8 0 1 0 -3.60 0zM264.50 435.2a1.8 1.8 0 1 0 3.60 0a1.8 1.8 0 1 0 -3.60 0zM271.40 435.2a1.8 1.8 0 1 0 3.60 0a1.8 1.8 0 1 0 -3.60 0zM261.00 438.3a1.8 1.8 0 1 0 3.60 0a1.8 1.8 0 1 0 -3.60 0zM262.20 441.4a1.8 1.8 0 1 0 3.60 0a1.8 1.8 0 1 0 -3.60 0zM270.70 440.0a1.8 1.8 0 1 0 3.60 0a1.8 1.8 0 1 0 -3.60 0zM257.60 443.3a1.8 1.8 0 1 0 3.60 0a1.8 1.8 0 1 0 -3.60 0zM258.70 446.6a1.8 1.8 0 1 0 3.60 0a1.8 1.8 0 1 0 -3.60 0zM259.90 449.5a1.8 1.8 0 1 0 3.60 0a1.8 1.8 0 1 0 -3.60 0zM269.50 446.2a1.8 1.8 0 1 0 3.60 0a1.8 1.8 0 1 0 -3.60 0zM272.20 447.2a1.8 1.8 0 1 0 3.60 0a1.8 1.8 0 1 0 -3.60 0zM274.10 446.0a1.8 1.8 0 1 0 3.60 0a1.8 1.8 0 1 0 -3.60 0zM264.90 448.3a1.8 1.8 0 1 0 3.60 0a1.8 1.8 0 1 0 -3.60 0zM268.40 449.5a1.8 1.8 0 1 0 3.60 0a1.8 1.8 0 1 0 -3.60 0zM269.90 451.0a1.8 1.8 0 1 0 3.60 0a1.8 1.8 0 1 0 -3.60 0zM267.60 452.2a1.8 1.8 0 1 0 3.60 0a1.8 1.8 0 1 0 -3.60 0zM264.10 452.8a1.8 1.8 0 1 0 3.60 0a1.8 1.8 0 1 0 -3.60 0zM268.70 453.7a1.8 1.8 0 1 0 3.60 0a1.8 1.8 0 1 0 -3.60 0zM275.30 453.3a1.8 1.8 0 1 0 3.60 0a1.8 1.8 0 1 0 -3.60 0zM281.40 451.4a1.8 1.8 0 1 0 3.60 0a1.8 1.8 0 1 0 -3.60 0zM283.70 450.5a1.8 1.8 0 1 0 3.60 0a1.8 1.8 0 1 0 -3.60 0zM289.10 445.1a1.8 1.8 0 1 0 3.60 0a1.8 1.8 0 1 0 -3.60 0zM290.70 446.4a1.8 1.8 0 1 0 3.60 0a1.8 1.8 0 1 0 -3.60 0zM291.40 449.5a1.8 1.8 0 1 0 3.60 0a1.8 1.8 0 1 0 -3.60 0zM261.00 456.0a1.8 1.8 0 1 0 3.60 0a1.8 1.8 0 1 0 -3.60 0zM263.40 457.2a1.8 1.8 0 1 0 3.60 0a1.8 1.8 0 1 0 -3.60 0zM271.40 456.8a1.8 1.8 0 1 0 3.60 0a1.8 1.8 0 1 0 -3.60 0zM268.50 459.5a1.8 1.8 0 1 0 3.60 0a1.8 1.8 0 1 0 -3.60 0zM259.90 462.2a1.8 1.8 0 1 0 3.60 0a1.8 1.8 0 1 0 -3.60 0zM272.60 461.4a1.8 1.8 0 1 0 3.60 0a1.8 1.8 0 1 0 -3.60 0zM274.10 463.7a1.8 1.8 0 1 0 3.60 0a1.8 1.8 0 1 0 -3.60 0zM283.70 459.1a1.8 1.8 0 1 0 3.60 0a1.8 1.8 0 1 0 -3.60 0zM284.90 461.8a1.8 1.8 0 1 0 3.60 0a1.8 1.8 0 1 0 -3.60 0zM291.40 459.1a1.8 1.8 0 1 0 3.60 0a1.8 1.8 0 1 0 -3.60 0zM293.60 430.8a1.8 1.8 0 1 0 3.60 0a1.8 1.8 0 1 0 -3.60 0zM296.40 436.1a1.8 1.8 0 1 0 3.60 0a1.8 1.8 0 1 0 -3.60 0zM301.00 435.6a1.8 1.8 0 1 0 3.60 0a1.8 1.8 0 1 0 -3.60 0zM310.90 437.1a1.8 1.8 0 1 0 3.60 0a1.8 1.8 0 1 0 -3.60 0zM312.50 435.1a1.8 1.8 0 1 0 3.60 0a1.8 1.8 0 1 0 -3.60 0zM317.90 438.5a1.8 1.8 0 1 0 3.60 0a1.8 1.8 0 1 0 -3.60 0zM321.20 436.8a1.8 1.8 0 1 0 3.60 0a1.8 1.8 0 1 0 -3.60 0zM321.40 441.2a1.8 1.8 0 1 0 3.60 0a1.8 1.8 0 1 0 -3.60 0zM293.60 440.2a1.8 1.8 0 1 0 3.60 0a1.8 1.8 0 1 0 -3.60 0zM302.90 441.9a1.8 1.8 0 1 0 3.60 0a1.8 1.8 0 1 0 -3.60 0zM313.30 444.1a1.8 1.8 0 1 0 3.60 0a1.8 1.8 0 1 0 -3.60 0zM297.40 447.9a1.8 1.8 0 1 0 3.60 0a1.8 1.8 0 1 0 -3.60 0zM310.60 448.3a1.8 1.8 0 1 0 3.60 0a1.8 1.8 0 1 0 -3.60 0zM324.30 446.4a1.8 1.8 0 1 0 3.60 0a1.8 1.8 0 1 0 -3.60 0zM328.50 450.2a1.8 1.8 0 1 0 3.60 0a1.8 1.8 0 1 0 -3.60 0zM304.40 451.5a1.8 1.8 0 1 0 3.60 0a1.8 1.8 0 1 0 -3.60 0zM316.60 452.9a1.8 1.8 0 1 0 3.60 0a1.8 1.8 0 1 0 -3.60 0zM318.90 452.0a1.8 1.8 0 1 0 3.60 0a1.8 1.8 0 1 0 -3.60 0zM323.40 454.7a1.8 1.8 0 1 0 3.60 0a1.8 1.8 0 1 0 -3.60 0zM319.00 456.8a1.8 1.8 0 1 0 3.60 0a1.8 1.8 0 1 0 -3.60 0zM295.50 453.9a1.8 1.8 0 1 0 3.60 0a1.8 1.8 0 1 0 -3.60 0zM301.30 458.5a1.8 1.8 0 1 0 3.60 0a1.8 1.8 0 1 0 -3.60 0zM307.50 459.2a1.8 1.8 0 1 0 3.60 0a1.8 1.8 0 1 0 -3.60 0zM309.40 460.8a1.8 1.8 0 1 0 3.60 0a1.8 1.8 0 1 0 -3.60 0zM312.80 459.8a1.8 1.8 0 1 0 3.60 0a1.8 1.8 0 1 0 -3.60 0zM329.60 459.2a1.8 1.8 0 1 0 3.60 0a1.8 1.8 0 1 0 -3.60 0zM295.00 463.0a1.8 1.8 0 1 0 3.60 0a1.8 1.8 0 1 0 -3.60 0zM294.00 465.4a1.8 1.8 0 1 0 3.60 0a1.8 1.8 0 1 0 -3.60 0zM296.90 466.4a1.8 1.8 0 1 0 3.60 0a1.8 1.8 0 1 0 -3.60 0zM299.30 468.3a1.8 1.8 0 1 0 3.60 0a1.8 1.8 0 1 0 -3.60 0zM322.90 463.5a1.8 1.8 0 1 0 3.60 0a1.8 1.8 0 1 0 -3.60 0zM329.20 464.3a1.8 1.8 0 1 0 3.60 0a1.8 1.8 0 1 0 -3.60 0zM317.60 468.3a1.8 1.8 0 1 0 3.60 0a1.8 1.8 0 1 0 -3.60 0zM311.40 469.8a1.8 1.8 0 1 0 3.60 0a1.8 1.8 0 1 0 -3.60 0zM314.20 472.2a1.8 1.8 0 1 0 3.60 0a1.8 1.8 0 1 0 -3.60 0zM304.80 471.2a1.8 1.8 0 1 0 3.60 0a1.8 1.8 0 1 0 -3.60 0zM291.20 469.8a1.8 1.8 0 1 0 3.60 0a1.8 1.8 0 1 0 -3.60 0zM293.60 472.2a1.8 1.8 0 1 0 3.60 0a1.8 1.8 0 1 0 -3.60 0zM296.00 474.6a1.8 1.8 0 1 0 3.60 0a1.8 1.8 0 1 0 -3.60 0zM182.10 468.6a1.8 1.8 0 1 0 3.60 0a1.8 1.8 0 1 0 -3.60 0zM175.20 483.3a1.8 1.8 0 1 0 3.60 0a1.8 1.8 0 1 0 -3.60 0zM207.80 475.2a1.8 1.8 0 1 0 3.60 0a1.8 1.8 0 1 0 -3.60 0zM211.50 480.6a1.8 1.8 0 1 0 3.60 0a1.8 1.8 0 1 0 -3.60 0zM213.80 480.4a1.8 1.8 0 1 0 3.60 0a1.8 1.8 0 1 0 -3.60 0zM219.00 472.3a1.8 1.8 0 1 0 3.60 0a1.8 1.8 0 1 0 -3.60 0zM216.80 491.9a1.8 1.8 0 1 0 3.60 0a1.8 1.8 0 1 0 -3.60 0zM253.70 465.2a1.8 1.8 0 1 0 3.60 0a1.8 1.8 0 1 0 -3.60 0zM227.70 468.3a1.8 1.8 0 1 0 3.60 0a1.8 1.8 0 1 0 -3.60 0zM236.50 468.9a1.8 1.8 0 1 0 3.60 0a1.8 1.8 0 1 0 -3.60 0zM238.80 469.7a1.8 1.8 0 1 0 3.60 0a1.8 1.8 0 1 0 -3.60 0zM240.70 469.7a1.8 1.8 0 1 0 3.60 0a1.8 1.8 0 1 0 -3.60 0zM237.70 471.6a1.8 1.8 0 1 0 3.60 0a1.8 1.8 0 1 0 -3.60 0zM243.80 471.2a1.8 1.8 0 1 0 3.60 0a1.8 1.8 0 1 0 -3.60 0zM241.90 473.5a1.8 1.8 0 1 0 3.60 0a1.8 1.8 0 1 0 -3.60 0zM237.30 475.1a1.8 1.8 0 1 0 3.60 0a1.8 1.8 0 1 0 -3.60 0zM240.70 475.8a1.8 1.8 0 1 0 3.60 0a1.8 1.8 0 1 0 -3.60 0zM245.00 476.2a1.8 1.8 0 1 0 3.60 0a1.8 1.8 0 1 0 -3.60 0zM250.00 476.2a1.8 1.8 0 1 0 3.60 0a1.8 1.8 0 1 0 -3.60 0zM252.70 477.0a1.8 1.8 0 1 0 3.60 0a1.8 1.8 0 1 0 -3.60 0zM229.20 475.8a1.8 1.8 0 1 0 3.60 0a1.8 1.8 0 1 0 -3.60 0zM232.30 477.4a1.8 1.8 0 1 0 3.60 0a1.8 1.8 0 1 0 -3.60 0zM231.50 479.7a1.8 1.8 0 1 0 3.60 0a1.8 1.8 0 1 0 -3.60 0zM222.70 482.2a1.8 1.8 0 1 0 3.60 0a1.8 1.8 0 1 0 -3.60 0zM238.80 480.5a1.8 1.8 0 1 0 3.60 0a1.8 1.8 0 1 0 -3.60 0zM242.70 479.5a1.8 1.8 0 1 0 3.60 0a1.8 1.8 0 1 0 -3.60 0zM247.30 479.5a1.8 1.8 0 1 0 3.60 0a1.8 1.8 0 1 0 -3.60 0zM250.00 480.8a1.8 1.8 0 1 0 3.60 0a1.8 1.8 0 1 0 -3.60 0zM252.30 481.6a1.8 1.8 0 1 0 3.60 0a1.8 1.8 0 1 0 -3.60 0zM238.00 484.3a1.8 1.8 0 1 0 3.60 0a1.8 1.8 0 1 0 -3.60 0zM248.00 484.7a1.8 1.8 0 1 0 3.60 0a1.8 1.8 0 1 0 -3.60 0zM248.00 487.4a1.8 1.8 0 1 0 3.60 0a1.8 1.8 0 1 0 -3.60 0zM253.00 489.3a1.8 1.8 0 1 0 3.60 0a1.8 1.8 0 1 0 -3.60 0zM221.30 492.0a1.8 1.8 0 1 0 3.60 0a1.8 1.8 0 1 0 -3.60 0zM240.40 491.6a1.8 1.8 0 1 0 3.60 0a1.8 1.8 0 1 0 -3.60 0zM227.70 498.0a1.8 1.8 0 1 0 3.60 0a1.8 1.8 0 1 0 -3.60 0zM250.00 495.5a1.8 1.8 0 1 0 3.60 0a1.8 1.8 0 1 0 -3.60 0zM251.90 498.8a1.8 1.8 0 1 0 3.60 0a1.8 1.8 0 1 0 -3.60 0zM255.70 467.0a1.8 1.8 0 1 0 3.60 0a1.8 1.8 0 1 0 -3.60 0zM255.30 470.5a1.8 1.8 0 1 0 3.60 0a1.8 1.8 0 1 0 -3.60 0zM264.10 467.4a1.8 1.8 0 1 0 3.60 0a1.8 1.8 0 1 0 -3.60 0zM263.00 470.1a1.8 1.8 0 1 0 3.60 0a1.8 1.8 0 1 0 -3.60 0zM269.10 466.6a1.8 1.8 0 1 0 3.60 0a1.8 1.8 0 1 0 -3.60 0zM274.50 466.2a1.8 1.8 0 1 0 3.60 0a1.8 1.8 0 1 0 -3.60 0zM281.40 466.2a1.8 1.8 0 1 0 3.60 0a1.8 1.8 0 1 0 -3.60 0zM286.00 467.8a1.8 1.8 0 1 0 3.60 0a1.8 1.8 0 1 0 -3.60 0zM288.40 466.2a1.8 1.8 0 1 0 3.60 0a1.8 1.8 0 1 0 -3.60 0zM275.70 472.4a1.8 1.8 0 1 0 3.60 0a1.8 1.8 0 1 0 -3.60 0zM259.10 474.3a1.8 1.8 0 1 0 3.60 0a1.8 1.8 0 1 0 -3.60 0zM261.40 474.2a1.8 1.8 0 1 0 3.60 0a1.8 1.8 0 1 0 -3.60 0zM267.60 475.1a1.8 1.8 0 1 0 3.60 0a1.8 1.8 0 1 0 -3.60 0zM279.50 473.5a1.8 1.8 0 1 0 3.60 0a1.8 1.8 0 1 0 -3.60 0zM281.40 472.0a1.8 1.8 0 1 0 3.60 0a1.8 1.8 0 1 0 -3.60 0zM283.00 473.4a1.8 1.8 0 1 0 3.60 0a1.8 1.8 0 1 0 -3.60 0zM284.10 475.8a1.8 1.8 0 1 0 3.60 0a1.8 1.8 0 1 0 -3.60 0zM284.90 477.4a1.8 1.8 0 1 0 3.60 0a1.8 1.8 0 1 0 -3.60 0zM280.30 479.7a1.8 1.8 0 1 0 3.60 0a1.8 1.8 0 1 0 -3.60 0zM282.60 479.7a1.8 1.8 0 1 0 3.60 0a1.8 1.8 0 1 0 -3.60 0zM284.90 480.5a1.8 1.8 0 1 0 3.60 0a1.8 1.8 0 1 0 -3.60 0zM284.10 482.4a1.8 1.8 0 1 0 3.60 0a1.8 1.8 0 1 0 -3.60 0zM269.90 478.2a1.8 1.8 0 1 0 3.60 0a1.8 1.8 0 1 0 -3.60 0zM273.00 477.0a1.8 1.8 0 1 0 3.60 0a1.8 1.8 0 1 0 -3.60 0zM274.10 479.3a1.8 1.8 0 1 0 3.60 0a1.8 1.8 0 1 0 -3.60 0zM258.00 479.3a1.8 1.8 0 1 0 3.60 0a1.8 1.8 0 1 0 -3.60 0zM259.50 482.4a1.8 1.8 0 1 0 3.60 0a1.8 1.8 0 1 0 -3.60 0zM262.20 482.4a1.8 1.8 0 1 0 3.60 0a1.8 1.8 0 1 0 -3.60 0zM291.00 477.0a1.8 1.8 0 1 0 3.60 0a1.8 1.8 0 1 0 -3.60 0zM275.70 483.9a1.8 1.8 0 1 0 3.60 0a1.8 1.8 0 1 0 -3.60 0zM265.30 485.8a1.8 1.8 0 1 0 3.60 0a1.8 1.8 0 1 0 -3.60 0zM267.20 485.5a1.8 1.8 0 1 0 3.60 0a1.8 1.8 0 1 0 -3.60 0zM271.00 486.0a1.8 1.8 0 1 0 3.60 0a1.8 1.8 0 1 0 -3.60 0zM266.40 488.2a1.8 1.8 0 1 0 3.60 0a1.8 1.8 0 1 0 -3.60 0zM268.70 489.7a1.8 1.8 0 1 0 3.60 0a1.8 1.8 0 1 0 -3.60 0zM279.10 486.2a1.8 1.8 0 1 0 3.60 0a1.8 1.8 0 1 0 -3.60 0zM280.70 487.4a1.8 1.8 0 1 0 3.60 0a1.8 1.8 0 1 0 -3.60 0zM285.70 485.8a1.8 1.8 0 1 0 3.60 0a1.8 1.8 0 1 0 -3.60 0zM284.90 488.2a1.8 1.8 0 1 0 3.60 0a1.8 1.8 0 1 0 -3.60 0zM256.40 491.1a1.8 1.8 0 1 0 3.60 0a1.8 1.8 0 1 0 -3.60 0zM254.50 494.3a1.8 1.8 0 1 0 3.60 0a1.8 1.8 0 1 0 -3.60 0zM283.70 492.0a1.8 1.8 0 1 0 3.60 0a1.8 1.8 0 1 0 -3.60 0zM272.60 493.2a1.8 1.8 0 1 0 3.60 0a1.8 1.8 0 1 0 -3.60 0zM270.70 495.1a1.8 1.8 0 1 0 3.60 0a1.8 1.8 0 1 0 -3.60 0zM268.70 497.0a1.8 1.8 0 1 0 3.60 0a1.8 1.8 0 1 0 -3.60 0zM277.20 493.5a1.8 1.8 0 1 0 3.60 0a1.8 1.8 0 1 0 -3.60 0zM282.60 498.2a1.8 1.8 0 1 0 3.60 0a1.8 1.8 0 1 0 -3.60 0zM258.00 500.1a1.8 1.8 0 1 0 3.60 0a1.8 1.8 0 1 0 -3.60 0zM299.80 477.7a1.8 1.8 0 1 0 3.60 0a1.8 1.8 0 1 0 -3.60 0zM296.00 480.1a1.8 1.8 0 1 0 3.60 0a1.8 1.8 0 1 0 -3.60 0zM298.40 479.6a1.8 1.8 0 1 0 3.60 0a1.8 1.8 0 1 0 -3.60 0zM301.70 482.0a1.8 1.8 0 1 0 3.60 0a1.8 1.8 0 1 0 -3.60 0zM311.40 480.8a1.8 1.8 0 1 0 3.60 0a1.8 1.8 0 1 0 -3.60 0zM323.40 482.0a1.8 1.8 0 1 0 3.60 0a1.8 1.8 0 1 0 -3.60 0zM330.10 482.0a1.8 1.8 0 1 0 3.60 0a1.8 1.8 0 1 0 -3.60 0zM319.00 485.4a1.8 1.8 0 1 0 3.60 0a1.8 1.8 0 1 0 -3.60 0zM293.20 487.3a1.8 1.8 0 1 0 3.60 0a1.8 1.8 0 1 0 -3.60 0zM296.90 487.1a1.8 1.8 0 1 0 3.60 0a1.8 1.8 0 1 0 -3.60 0zM302.20 489.7a1.8 1.8 0 1 0 3.60 0a1.8 1.8 0 1 0 -3.60 0zM321.90 499.3a1.8 1.8 0 1 0 3.60 0a1.8 1.8 0 1 0 -3.60 0zM264.90 503.3a1.8 1.8 0 1 0 3.60 0a1.8 1.8 0 1 0 -3.60 0zM240.30 504.4a1.8 1.8 0 1 0 3.60 0a1.8 1.8 0 1 0 -3.60 0zM234.90 506.7a1.8 1.8 0 1 0 3.60 0a1.8 1.8 0 1 0 -3.60 0zM248.70 511.0a1.8 1.8 0 1 0 3.60 0a1.8 1.8 0 1 0 -3.60 0zM342.40 498.1a1.8 1.8 0 1 0 3.60 0a1.8 1.8 0 1 0 -3.60 0z" fill="#181818" filter="url(#b)"/>
<text class="lt" x="30.8" y="625.0">C</text>
<path d="M100.9 678.8V850.2M100.30000000000001 850.2H483.70000000000005" stroke="#000" stroke-width="1.4" fill="none"/>
<path d="M96.5 850.20H100.9M100.90 850.2V854.4000000000001M96.5 821.73H100.9M164.60 850.2V854.4000000000001M96.5 793.27H100.9M228.30 850.2V854.4000000000001M96.5 764.80H100.9M292.00 850.2V854.4000000000001M96.5 736.33H100.9M355.70 850.2V854.4000000000001M96.5 707.87H100.9M419.40 850.2V854.4000000000001M96.5 679.40H100.9M483.10 850.2V854.4000000000001" stroke="#000" stroke-width="1.4" fill="none"/>
<text class="tk" x="89.6" y="855.20" text-anchor="end">0</text>
<text class="tk" x="89.6" y="826.73" text-anchor="end">50</text>
<text class="tk" x="89.6" y="798.27" text-anchor="end">100</text>
<text class="tk" x="89.6" y="769.80" text-anchor="end">150</text>
<text class="tk" x="89.6" y="741.33" text-anchor="end">200</text>
<text class="tk" x="89.6" y="712.87" text-anchor="end">250</text>
<text class="tk" x="89.6" y="684.40" text-anchor="end">300</text>
<text class="tk" x="101.70" y="871.80" text-anchor="middle">0</text>
<text class="tk" x="164.00" y="871.80" text-anchor="middle">50</text>
<text class="tk" x="228.50" y="871.80" text-anchor="middle">100</text>
<text class="tk" x="292.20" y="871.80" text-anchor="middle">150</text>
<text class="tk" x="355.90" y="871.80" text-anchor="middle">200</text>
<text class="tk" x="419.60" y="871.80" text-anchor="middle">250</text>
<text class="tk" x="483.30" y="871.80" text-anchor="middle">300</text>
<text class="tt" x="296.8" y="891.6" text-anchor="middle" textLength="267.0" lengthAdjust="spacingAndGlyphs">Bayesian carboplatin clearance (ml/min)</text>
<text class="ty" transform="translate(40.4,763.3) rotate(-90)" text-anchor="middle" textLength="253.8" lengthAdjust="spacingAndGlyphs">Glomerular filtration rate according to</text>
<text class="ty" transform="translate(57.5,764.0) rotate(-90)" text-anchor="middle" textLength="103.5" lengthAdjust="spacingAndGlyphs">Wright (ml/min)</text>
<path d="M245.00 707.9a1.8 1.8 0 1 0 3.60 0a1.8 1.8 0 1 0 -3.60 0zM253.10 707.9a1.8 1.8 0 1 0 3.60 0a1.8 1.8 0 1 0 -3.60 0zM263.20 708.8a1.8 1.8 0 1 0 3.60 0a1.8 1.8 0 1 0 -3.60 0zM268.60 707.9a1.8 1.8 0 1 0 3.60 0a1.8 1.8 0 1 0 -3.60 0zM273.60 707.9a1.8 1.8 0 1 0 3.60 0a1.8 1.8 0 1 0 -3.60 0zM278.40 707.9a1.8 1.8 0 1 0 3.60 0a1.8 1.8 0 1 0 -3.60 0zM251.00 718.3a1.8 1.8 0 1 0 3.60 0a1.8 1.8 0 1 0 -3.60 0zM260.90 717.1a1.8 1.8 0 1 0 3.60 0a1.8 1.8 0 1 0 -3.60 0zM269.30 715.2a1.8 1.8 0 1 0 3.60 0a1.8 1.8 0 1 0 -3.60 0zM276.70 716.8a1.8 1.8 0 1 0 3.60 0a1.8 1.8 0 1 0 -3.60 0zM245.50 722.9a1.8 1.8 0 1 0 3.60 0a1.8 1.8 0 1 0 -3.60 0zM255.40 721.3a1.8 1.8 0 1 0 3.60 0a1.8 1.8 0 1 0 -3.60 0zM259.40 724.2a1.8 1.8 0 1 0 3.60 0a1.8 1.8 0 1 0 -3.60 0zM273.40 721.3a1.8 1.8 0 1 0 3.60 0a1.8 1.8 0 1 0 -3.60 0zM275.50 722.3a1.8 1.8 0 1 0 3.60 0a1.8 1.8 0 1 0 -3.60 0zM283.20 722.3a1.8 1.8 0 1 0 3.60 0a1.8 1.8 0 1 0 -3.60 0zM253.00 728.1a1.8 1.8 0 1 0 3.60 0a1.8 1.8 0 1 0 -3.60 0zM269.60 728.7a1.8 1.8 0 1 0 3.60 0a1.8 1.8 0 1 0 -3.60 0zM271.20 730.6a1.8 1.8 0 1 0 3.60 0a1.8 1.8 0 1 0 -3.60 0zM270.70 733.2a1.8 1.8 0 1 0 3.60 0a1.8 1.8 0 1 0 -3.60 0zM279.60 728.1a1.8 1.8 0 1 0 3.60 0a1.8 1.8 0 1 0 -3.60 0zM260.90 732.2a1.8 1.8 0 1 0 3.60 0a1.8 1.8 0 1 0 -3.60 0zM254.60 737.3a1.8 1.8 0 1 0 3.60 0a1.8 1.8 0 1 0 -3.60 0zM258.70 736.5a1.8 1.8 0 1 0 3.60 0a1.8 1.8 0 1 0 -3.60 0zM264.20 737.7a1.8 1.8 0 1 0 3.60 0a1.8 1.8 0 1 0 -3.60 0zM270.20 737.7a1.8 1.8 0 1 0 3.60 0a1.8 1.8 0 1 0 -3.60 0zM236.60 739.6a1.8 1.8 0 1 0 3.60 0a1.8 1.8 0 1 0 -3.60 0zM262.10 741.5a1.8 1.8 0 1 0 3.60 0a1.8 1.8 0 1 0 -3.60 0zM257.10 744.2a1.8 1.8 0 1 0 3.60 0a1.8 1.8 0 1 0 -3.60 0zM246.70 747.3a1.8 1.8 0 1 0 3.60 0a1.8 1.8 0 1 0 -3.60 0zM252.00 747.3a1.8 1.8 0 1 0 3.60 0a1.8 1.8 0 1 0 -3.60 0zM253.00 749.0a1.8 1.8 0 1 0 3.60 0a1.8 1.8 0 1 0 -3.60 0zM267.40 745.2a1.8 1.8 0 1 0 3.60 0a1.8 1.8 0 1 0 -3.60 0zM270.30 746.6a1.8 1.8 0 1 0 3.60 0a1.8 1.8 0 1 0 -3.60 0zM272.70 747.6a1.8 1.8 0 1 0 3.60 0a1.8 1.8 0 1 0 -3.60 0zM274.10 748.8a1.8 1.8 0 1 0 3.60 0a1.8 1.8 0 1 0 -3.60 0zM220.50 744.7a1.8 1.8 0 1 0 3.60 0a1.8 1.8 0 1 0 -3.60 0zM303.50 707.9a1.8 1.8 0 1 0 3.60 0a1.8 1.8 0 1 0 -3.60 0zM306.00 707.9a1.8 1.8 0 1 0 3.60 0a1.8 1.8 0 1 0 -3.60 0zM312.20 707.9a1.8 1.8 0 1 0 3.60 0a1.8 1.8 0 1 0 -3.60 0zM321.90 707.9a1.8 1.8 0 1 0 3.60 0a1.8 1.8 0 1 0 -3.60 0zM323.90 707.9a1.8 1.8 0 1 0 3.60 0a1.8 1.8 0 1 0 -3.60 0zM285.60 713.0a1.8 1.8 0 1 0 3.60 0a1.8 1.8 0 1 0 -3.60 0zM293.00 713.3a1.8 1.8 0 1 0 3.60 0a1.8 1.8 0 1 0 -3.60 0zM297.80 715.2a1.8 1.8 0 1 0 3.60 0a1.8 1.8 0 1 0 -3.60 0zM298.10 717.3a1.8 1.8 0 1 0 3.60 0a1.8 1.8 0 1 0 -3.60 0zM322.80 715.2a1.8 1.8 0 1 0 3.60 0a1.8 1.8 0 1 0 -3.60 0zM285.10 721.6a1.8 1.8 0 1 0 3.60 0a1.8 1.8 0 1 0 -3.60 0zM305.10 725.2a1.8 1.8 0 1 0 3.60 0a1.8 1.8 0 1 0 -3.60 0zM312.50 723.6a1.8 1.8 0 1 0 3.60 0a1.8 1.8 0 1 0 -3.60 0zM321.40 723.6a1.8 1.8 0 1 0 3.60 0a1.8 1.8 0 1 0 -3.60 0zM310.90 728.4a1.8 1.8 0 1 0 3.60 0a1.8 1.8 0 1 0 -3.60 0zM318.00 727.1a1.8 1.8 0 1 0 3.60 0a1.8 1.8 0 1 0 -3.60 0zM287.00 731.5a1.8 1.8 0 1 0 3.60 0a1.8 1.8 0 1 0 -3.60 0zM293.50 729.8a1.8 1.8 0 1 0 3.60 0a1.8 1.8 0 1 0 -3.60 0zM299.30 730.8a1.8 1.8 0 1 0 3.60 0a1.8 1.8 0 1 0 -3.60 0zM301.20 732.7a1.8 1.8 0 1 0 3.60 0a1.8 1.8 0 1 0 -3.60 0zM291.80 738.5a1.8 1.8 0 1 0 3.60 0a1.8 1.8 0 1 0 -3.60 0zM293.70 740.4a1.8 1.8 0 1 0 3.60 0a1.8 1.8 0 1 0 -3.60 0zM296.60 737.5a1.8 1.8 0 1 0 3.60 0a1.8 1.8 0 1 0 -3.60 0zM289.40 742.5a1.8 1.8 0 1 0 3.60 0a1.8 1.8 0 1 0 -3.60 0zM297.60 743.1a1.8 1.8 0 1 0 3.60 0a1.8 1.8 0 1 0 -3.60 0zM303.20 742.5a1.8 1.8 0 1 0 3.60 0a1.8 1.8 0 1 0 -3.60 0zM318.70 741.5a1.8 1.8 0 1 0 3.60 0a1.8 1.8 0 1 0 -3.60 0zM321.60 741.2a1.8 1.8 0 1 0 3.60 0a1.8 1.8 0 1 0 -3.60 0zM311.00 744.7a1.8 1.8 0 1 0 3.60 0a1.8 1.8 0 1 0 -3.60 0zM324.30 745.2a1.8 1.8 0 1 0 3.60 0a1.8 1.8 0 1 0 -3.60 0zM293.00 746.2a1.8 1.8 0 1 0 3.60 0a1.8 1.8 0 1 0 -3.60 0zM340.30 708.0a1.8 1.8 0 1 0 3.60 0a1.8 1.8 0 1 0 -3.60 0zM349.80 708.0a1.8 1.8 0 1 0 3.60 0a1.8 1.8 0 1 0 -3.60 0zM451.40 708.0a1.8 1.8 0 1 0 3.60 0a1.8 1.8 0 1 0 -3.60 0zM461.50 708.0a1.8 1.8 0 1 0 3.60 0a1.8 1.8 0 1 0 -3.60 0zM372.00 720.4a1.8 1.8 0 1 0 3.60 0a1.8 1.8 0 1 0 -3.60 0zM404.10 725.9a1.8 1.8 0 1 0 3.60 0a1.8 1.8 0 1 0 -3.60 0zM364.80 734.8a1.8 1.8 0 1 0 3.60 0a1.8 1.8 0 1 0 -3.60 0zM364.80 746.3a1.8 1.8 0 1 0 3.60 0a1.8 1.8 0 1 0 -3.60 0zM395.10 757.0a1.8 1.8 0 1 0 3.60 0a1.8 1.8 0 1 0 -3.60 0zM383.90 783.5a1.8 1.8 0 1 0 3.60 0a1.8 1.8 0 1 0 -3.60 0zM335.70 750.4a1.8 1.8 0 1 0 3.60 0a1.8 1.8 0 1 0 -3.60 0zM339.10 748.5a1.8 1.8 0 1 0 3.60 0a1.8 1.8 0 1 0 -3.60 0zM328.80 752.7a1.8 1.8 0 1 0 3.60 0a1.8 1.8 0 1 0 -3.60 0zM323.60 755.5a1.8 1.8 0 1 0 3.60 0a1.8 1.8 0 1 0 -3.60 0zM319.40 758.5a1.8 1.8 0 1 0 3.60 0a1.8 1.8 0 1 0 -3.60 0zM346.00 755.5a1.8 1.8 0 1 0 3.60 0a1.8 1.8 0 1 0 -3.60 0zM323.20 760.8a1.8 1.8 0 1 0 3.60 0a1.8 1.8 0 1 0 -3.60 0zM329.00 760.6a1.8 1.8 0 1 0 3.60 0a1.8 1.8 0 1 0 -3.60 0zM332.70 760.9a1.8 1.8 0 1 0 3.60 0a1.8 1.8 0 1 0 -3.60 0zM329.00 764.5a1.8 1.8 0 1 0 3.60 0a1.8 1.8 0 1 0 -3.60 0zM340.10 763.1a1.8 1.8 0 1 0 3.60 0a1.8 1.8 0 1 0 -3.60 0zM346.30 765.4a1.8 1.8 0 1 0 3.60 0a1.8 1.8 0 1 0 -3.60 0zM342.40 766.9a1.8 1.8 0 1 0 3.60 0a1.8 1.8 0 1 0 -3.60 0zM331.70 767.5a1.8 1.8 0 1 0 3.60 0a1.8 1.8 0 1 0 -3.60 0zM334.00 772.2a1.8 1.8 0 1 0 3.60 0a1.8 1.8 0 1 0 -3.60 0zM318.60 773.8a1.8 1.8 0 1 0 3.60 0a1.8 1.8 0 1 0 -3.60 0zM324.00 778.8a1.8 1.8 0 1 0 3.60 0a1.8 1.8 0 1 0 -3.60 0zM291.40 749.2a1.8 1.8 0 1 0 3.60 0a1.8 1.8 0 1 0 -3.60 0zM295.60 750.2a1.8 1.8 0 1 0 3.60 0a1.8 1.8 0 1 0 -3.60 0zM283.30 750.8a1.8 1.8 0 1 0 3.60 0a1.8 1.8 0 1 0 -3.60 0zM282.10 754.8a1.8 1.8 0 1 0 3.60 0a1.8 1.8 0 1 0 -3.60 0zM304.40 753.7a1.8 1.8 0 1 0 3.60 0a1.8 1.8 0 1 0 -3.60 0zM309.40 755.1a1.8 1.8 0 1 0 3.60 0a1.8 1.8 0 1 0 -3.60 0zM312.50 756.4a1.8 1.8 0 1 0 3.60 0a1.8 1.8 0 1 0 -3.60 0zM313.30 748.9a1.8 1.8 0 1 0 3.60 0a1.8 1.8 0 1 0 -3.60 0zM316.70 753.1a1.8 1.8 0 1 0 3.60 0a1.8 1.8 0 1 0 -3.60 0zM295.60 758.9a1.8 1.8 0 1 0 3.60 0a1.8 1.8 0 1 0 -3.60 0zM301.10 760.2a1.8 1.8 0 1 0 3.60 0a1.8 1.8 0 1 0 -3.60 0zM307.90 762.9a1.8 1.8 0 1 0 3.60 0a1.8 1.8 0 1 0 -3.60 0zM314.20 764.5a1.8 1.8 0 1 0 3.60 0a1.8 1.8 0 1 0 -3.60 0zM304.80 766.4a1.8 1.8 0 1 0 3.60 0a1.8 1.8 0 1 0 -3.60 0zM283.70 762.5a1.8 1.8 0 1 0 3.60 0a1.8 1.8 0 1 0 -3.60 0zM285.60 764.5a1.8 1.8 0 1 0 3.60 0a1.8 1.8 0 1 0 -3.60 0zM292.10 763.5a1.8 1.8 0 1 0 3.60 0a1.8 1.8 0 1 0 -3.60 0zM294.40 764.8a1.8 1.8 0 1 0 3.60 0a1.8 1.8 0 1 0 -3.60 0zM288.30 768.9a1.8 1.8 0 1 0 3.60 0a1.8 1.8 0 1 0 -3.60 0zM294.80 768.3a1.8 1.8 0 1 0 3.60 0a1.8 1.8 0 1 0 -3.60 0zM296.70 769.1a1.8 1.8 0 1 0 3.60 0a1.8 1.8 0 1 0 -3.60 0zM299.00 769.1a1.8 1.8 0 1 0 3.60 0a1.8 1.8 0 1 0 -3.60 0zM297.50 771.0a1.8 1.8 0 1 0 3.60 0a1.8 1.8 0 1 0 -3.60 0zM281.40 771.0a1.8 1.8 0 1 0 3.60 0a1.8 1.8 0 1 0 -3.60 0zM290.20 772.9a1.8 1.8 0 1 0 3.60 0a1.8 1.8 0 1 0 -3.60 0zM292.50 774.1a1.8 1.8 0 1 0 3.60 0a1.8 1.8 0 1 0 -3.60 0zM294.40 772.9a1.8 1.8 0 1 0 3.60 0a1.8 1.8 0 1 0 -3.60 0zM300.40 773.5a1.8 1.8 0 1 0 3.60 0a1.8 1.8 0 1 0 -3.60 0zM311.40 774.6a1.8 1.8 0 1 0 3.60 0a1.8 1.8 0 1 0 -3.60 0zM281.70 775.2a1.8 1.8 0 1 0 3.60 0a1.8 1.8 0 1 0 -3.60 0zM284.00 774.5a1.8 1.8 0 1 0 3.60 0a1.8 1.8 0 1 0 -3.60 0zM285.60 776.8a1.8 1.8 0 1 0 3.60 0a1.8 1.8 0 1 0 -3.60 0zM281.00 778.3a1.8 1.8 0 1 0 3.60 0a1.8 1.8 0 1 0 -3.60 0zM283.70 779.1a1.8 1.8 0 1 0 3.60 0a1.8 1.8 0 1 0 -3.60 0zM286.00 781.4a1.8 1.8 0 1 0 3.60 0a1.8 1.8 0 1 0 -3.60 0zM296.00 779.1a1.8 1.8 0 1 0 3.60 0a1.8 1.8 0 1 0 -3.60 0zM296.40 781.4a1.8 1.8 0 1 0 3.60 0a1.8 1.8 0 1 0 -3.60 0zM301.70 779.8a1.8 1.8 0 1 0 3.60 0a1.8 1.8 0 1 0 -3.60 0zM311.40 779.5a1.8 1.8 0 1 0 3.60 0a1.8 1.8 0 1 0 -3.60 0zM291.70 782.5a1.8 1.8 0 1 0 3.60 0a1.8 1.8 0 1 0 -3.60 0zM295.60 783.7a1.8 1.8 0 1 0 3.60 0a1.8 1.8 0 1 0 -3.60 0zM281.70 784.5a1.8 1.8 0 1 0 3.60 0a1.8 1.8 0 1 0 -3.60 0zM243.40 752.2a1.8 1.8 0 1 0 3.60 0a1.8 1.8 0 1 0 -3.60 0zM249.30 751.8a1.8 1.8 0 1 0 3.60 0a1.8 1.8 0 1 0 -3.60 0zM253.00 753.7a1.8 1.8 0 1 0 3.60 0a1.8 1.8 0 1 0 -3.60 0zM260.00 750.5a1.8 1.8 0 1 0 3.60 0a1.8 1.8 0 1 0 -3.60 0zM265.30 750.2a1.8 1.8 0 1 0 3.60 0a1.8 1.8 0 1 0 -3.60 0zM267.60 750.2a1.8 1.8 0 1 0 3.60 0a1.8 1.8 0 1 0 -3.60 0zM264.50 753.7a1.8 1.8 0 1 0 3.60 0a1.8 1.8 0 1 0 -3.60 0zM268.70 754.8a1.8 1.8 0 1 0 3.60 0a1.8 1.8 0 1 0 -3.60 0zM271.00 754.5a1.8 1.8 0 1 0 3.60 0a1.8 1.8 0 1 0 -3.60 0zM274.50 755.6a1.8 1.8 0 1 0 3.60 0a1.8 1.8 0 1 0 -3.60 0zM276.00 757.2a1.8 1.8 0 1 0 3.60 0a1.8 1.8 0 1 0 -3.60 0zM246.40 756.0a1.8 1.8 0 1 0 3.60 0a1.8 1.8 0 1 0 -3.60 0zM245.70 758.3a1.8 1.8 0 1 0 3.60 0a1.8 1.8 0 1 0 -3.60 0zM242.60 756.8a1.8 1.8 0 1 0 3.60 0a1.8 1.8 0 1 0 -3.60 0zM260.70 756.4a1.8 1.8 0 1 0 3.60 0a1.8 1.8 0 1 0 -3.60 0zM272.60 759.8a1.8 1.8 0 1 0 3.60 0a1.8 1.8 0 1 0 -3.60 0zM252.60 761.4a1.8 1.8 0 1 0 3.60 0a1.8 1.8 0 1 0 -3.60 0zM259.90 762.2a1.8 1.8 0 1 0 3.60 0a1.8 1.8 0 1 0 -3.60 0zM263.00 761.4a1.8 1.8 0 1 0 3.60 0a1.8 1.8 0 1 0 -3.60 0zM263.40 764.5a1.8 1.8 0 1 0 3.60 0a1.8 1.8 0 1 0 -3.60 0zM263.70 767.2a1.8 1.8 0 1 0 3.60 0a1.8 1.8 0 1 0 -3.60 0zM258.70 767.2a1.8 1.8 0 1 0 3.60 0a1.8 1.8 0 1 0 -3.60 0zM251.30 766.8a1.8 1.8 0 1 0 3.60 0a1.8 1.8 0 1 0 -3.60 0zM268.70 770.0a1.8 1.8 0 1 0 3.60 0a1.8 1.8 0 1 0 -3.60 0zM274.10 768.3a1.8 1.8 0 1 0 3.60 0a1.8 1.8 0 1 0 -3.60 0zM254.90 769.5a1.8 1.8 0 1 0 3.60 0a1.8 1.8 0 1 0 -3.60 0zM253.40 771.4a1.8 1.8 0 1 0 3.60 0a1.8 1.8 0 1 0 -3.60 0zM251.40 772.9a1.8 1.8 0 1 0 3.60 0a1.8 1.8 0 1 0 -3.60 0zM256.00 772.2a1.8 1.8 0 1 0 3.60 0a1.8 1.8 0 1 0 -3.60 0zM253.70 774.4a1.8 1.8 0 1 0 3.60 0a1.8 1.8 0 1 0 -3.60 0zM273.40 773.7a1.8 1.8 0 1 0 3.60 0a1.8 1.8 0 1 0 -3.60 0zM275.30 772.5a1.8 1.8 0 1 0 3.60 0a1.8 1.8 0 1 0 -3.60 0zM274.50 775.6a1.8 1.8 0 1 0 3.60 0a1.8 1.8 0 1 0 -3.60 0zM279.90 776.4a1.8 1.8 0 1 0 3.60 0a1.8 1.8 0 1 0 -3.60 0zM243.40 775.6a1.8 1.8 0 1 0 3.60 0a1.8 1.8 0 1 0 -3.60 0zM244.10 777.5a1.8 1.8 0 1 0 3.60 0a1.8 1.8 0 1 0 -3.60 0zM249.90 777.5a1.8 1.8 0 1 0 3.60 0a1.8 1.8 0 1 0 -3.60 0zM244.50 780.6a1.8 1.8 0 1 0 3.60 0a1.8 1.8 0 1 0 -3.60 0zM261.40 778.3a1.8 1.8 0 1 0 3.60 0a1.8 1.8 0 1 0 -3.60 0zM261.00 780.6a1.8 1.8 0 1 0 3.60 0a1.8 1.8 0 1 0 -3.60 0zM258.70 782.5a1.8 1.8 0 1 0 3.60 0a1.8 1.8 0 1 0 -3.60 0zM252.20 781.0a1.8 1.8 0 1 0 3.60 0a1.8 1.8 0 1 0 -3.60 0zM254.50 780.6a1.8 1.8 0 1 0 3.60 0a1.8 1.8 0 1 0 -3.60 0zM249.50 782.5a1.8 1.8 0 1 0 3.60 0a1.8 1.8 0 1 0 -3.60 0zM266.80 779.1a1.8 1.8 0 1 0 3.60 0a1.8 1.8 0 1 0 -3.60 0zM268.70 780.6a1.8 1.8 0 1 0 3.60 0a1.8 1.8 0 1 0 -3.60 0zM270.30 782.5a1.8 1.8 0 1 0 3.60 0a1.8 1.8 0 1 0 -3.60 0zM275.70 781.4a1.8 1.8 0 1 0 3.60 0a1.8 1.8 0 1 0 -3.60 0zM279.90 782.2a1.8 1.8 0 1 0 3.60 0a1.8 1.8 0 1 0 -3.60 0zM265.30 783.7a1.8 1.8 0 1 0 3.60 0a1.8 1.8 0 1 0 -3.60 0zM267.20 784.8a1.8 1.8 0 1 0 3.60 0a1.8 1.8 0 1 0 -3.60 0zM246.80 784.8a1.8 1.8 0 1 0 3.60 0a1.8 1.8 0 1 0 -3.60 0zM243.00 784.5a1.8 1.8 0 1 0 3.60 0a1.8 1.8 0 1 0 -3.60 0zM219.40 752.2a1.8 1.8 0 1 0 3.60 0a1.8 1.8 0 1 0 -3.60 0zM233.20 748.7a1.8 1.8 0 1 0 3.60 0a1.8 1.8 0 1 0 -3.60 0zM231.80 752.2a1.8 1.8 0 1 0 3.60 0a1.8 1.8 0 1 0 -3.60 0zM236.70 751.8a1.8 1.8 0 1 0 3.60 0a1.8 1.8 0 1 0 -3.60 0zM241.60 753.1a1.8 1.8 0 1 0 3.60 0a1.8 1.8 0 1 0 -3.60 0zM237.60 757.1a1.8 1.8 0 1 0 3.60 0a1.8 1.8 0 1 0 -3.60 0zM230.50 760.6a1.8 1.8 0 1 0 3.60 0a1.8 1.8 0 1 0 -3.60 0zM236.30 763.3a1.8 1.8 0 1 0 3.60 0a1.8 1.8 0 1 0 -3.60 0zM240.50 765.5a1.8 1.8 0 1 0 3.60 0a1.8 1.8 0 1 0 -3.60 0zM227.20 771.2a1.8 1.8 0 1 0 3.60 0a1.8 1.8 0 1 0 -3.60 0zM236.10 772.5a1.8 1.8 0 1 0 3.60 0a1.8 1.8 0 1 0 -3.60 0zM240.50 770.8a1.8 1.8 0 1 0 3.60 0a1.8 1.8 0 1 0 -3.60 0zM237.10 775.2a1.8 1.8 0 1 0 3.60 0a1.8 1.8 0 1 0 -3.60 0zM237.60 777.4a1.8 1.8 0 1 0 3.60 0a1.8 1.8 0 1 0 -3.60 0zM240.20 780.1a1.8 1.8 0 1 0 3.60 0a1.8 1.8 0 1 0 -3.60 0zM206.90 777.2a1.8 1.8 0 1 0 3.60 0a1.8 1.8 0 1 0 -3.60 0zM218.10 776.5a1.8 1.8 0 1 0 3.60 0a1.8 1.8 0 1 0 -3.60 0zM219.40 777.9a1.8 1.8 0 1 0 3.60 0a1.8 1.8 0 1 0 -3.60 0zM229.20 778.3a1.8 1.8 0 1 0 3.60 0a1.8 1.8 0 1 0 -3.60 0zM231.40 781.4a1.8 1.8 0 1 0 3.60 0a1.8 1.8 0 1 0 -3.60 0zM211.50 784.5a1.8 1.8 0 1 0 3.60 0a1.8 1.8 0 1 0 -3.60 0zM213.20 786.3a1.8 1.8 0 1 0 3.60 0a1.8 1.8 0 1 0 -3.60 0zM221.90 785.4a1.8 1.8 0 1 0 3.60 0a1.8 1.8 0 1 0 -3.60 0zM238.50 786.3a1.8 1.8 0 1 0 3.60 0a1.8 1.8 0 1 0 -3.60 0zM181.50 773.0a1.8 1.8 0 1 0 3.60 0a1.8 1.8 0 1 0 -3.60 0zM174.40 789.1a1.8 1.8 0 1 0 3.60 0a1.8 1.8 0 1 0 -3.60 0zM247.60 789.2a1.8 1.8 0 1 0 3.60 0a1.8 1.8 0 1 0 -3.60 0zM252.80 788.4a1.8 1.8 0 1 0 3.60 0a1.8 1.8 0 1 0 -3.60 0zM259.70 787.5a1.8 1.8 0 1 0 3.60 0a1.8 1.8 0 1 0 -3.60 0zM254.00 795.0a1.8 1.8 0 1 0 3.60 0a1.8 1.8 0 1 0 -3.60 0zM255.70 792.7a1.8 1.8 0 1 0 3.60 0a1.8 1.8 0 1 0 -3.60 0zM257.40 790.3a1.8 1.8 0 1 0 3.60 0a1.8 1.8 0 1 0 -3.60 0zM216.50 795.0a1.8 1.8 0 1 0 3.60 0a1.8 1.8 0 1 0 -3.60 0zM220.70 794.6a1.8 1.8 0 1 0 3.60 0a1.8 1.8 0 1 0 -3.60 0zM240.10 795.3a1.8 1.8 0 1 0 3.60 0a1.8 1.8 0 1 0 -3.60 0zM251.60 798.1a1.8 1.8 0 1 0 3.60 0a1.8 1.8 0 1 0 -3.60 0zM249.30 801.3a1.8 1.8 0 1 0 3.60 0a1.8 1.8 0 1 0 -3.60 0zM227.20 803.8a1.8 1.8 0 1 0 3.60 0a1.8 1.8 0 1 0 -3.60 0zM251.60 805.7a1.8 1.8 0 1 0 3.60 0a1.8 1.8 0 1 0 -3.60 0zM257.20 807.6a1.8 1.8 0 1 0 3.60 0a1.8 1.8 0 1 0 -3.60 0zM234.30 811.7a1.8 1.8 0 1 0 3.60 0a1.8 1.8 0 1 0 -3.60 0zM239.90 812.6a1.8 1.8 0 1 0 3.60 0a1.8 1.8 0 1 0 -3.60 0zM248.20 814.9a1.8 1.8 0 1 0 3.60 0a1.8 1.8 0 1 0 -3.60 0zM266.90 786.8a1.8 1.8 0 1 0 3.60 0a1.8 1.8 0 1 0 -3.60 0zM268.00 788.9a1.8 1.8 0 1 0 3.60 0a1.8 1.8 0 1 0 -3.60 0zM272.60 785.5a1.8 1.8 0 1 0 3.60 0a1.8 1.8 0 1 0 -3.60 0zM264.50 791.8a1.8 1.8 0 1 0 3.60 0a1.8 1.8 0 1 0 -3.60 0zM266.30 793.5a1.8 1.8 0 1 0 3.60 0a1.8 1.8 0 1 0 -3.60 0zM268.60 797.0a1.8 1.8 0 1 0 3.60 0a1.8 1.8 0 1 0 -3.60 0zM270.90 796.4a1.8 1.8 0 1 0 3.60 0a1.8 1.8 0 1 0 -3.60 0zM272.60 793.0a1.8 1.8 0 1 0 3.60 0a1.8 1.8 0 1 0 -3.60 0zM277.20 793.3a1.8 1.8 0 1 0 3.60 0a1.8 1.8 0 1 0 -3.60 0zM280.10 785.5a1.8 1.8 0 1 0 3.60 0a1.8 1.8 0 1 0 -3.60 0zM283.00 786.0a1.8 1.8 0 1 0 3.60 0a1.8 1.8 0 1 0 -3.60 0zM285.30 787.2a1.8 1.8 0 1 0 3.60 0a1.8 1.8 0 1 0 -3.60 0zM284.20 794.7a1.8 1.8 0 1 0 3.60 0a1.8 1.8 0 1 0 -3.60 0zM282.40 800.2a1.8 1.8 0 1 0 3.60 0a1.8 1.8 0 1 0 -3.60 0zM292.80 788.3a1.8 1.8 0 1 0 3.60 0a1.8 1.8 0 1 0 -3.60 0zM298.00 786.6a1.8 1.8 0 1 0 3.60 0a1.8 1.8 0 1 0 -3.60 0zM302.00 790.3a1.8 1.8 0 1 0 3.60 0a1.8 1.8 0 1 0 -3.60 0zM264.50 805.6a1.8 1.8 0 1 0 3.60 0a1.8 1.8 0 1 0 -3.60 0zM319.40 789.5a1.8 1.8 0 1 0 3.60 0a1.8 1.8 0 1 0 -3.60 0zM330.20 786.8a1.8 1.8 0 1 0 3.60 0a1.8 1.8 0 1 0 -3.60 0zM342.80 802.9a1.8 1.8 0 1 0 3.60 0a1.8 1.8 0 1 0 -3.60 0zM322.00 807.2a1.8 1.8 0 1 0 3.60 0a1.8 1.8 0 1 0 -3.60 0z" fill="#181818" filter="url(#b)"/>
</svg></body></html>
